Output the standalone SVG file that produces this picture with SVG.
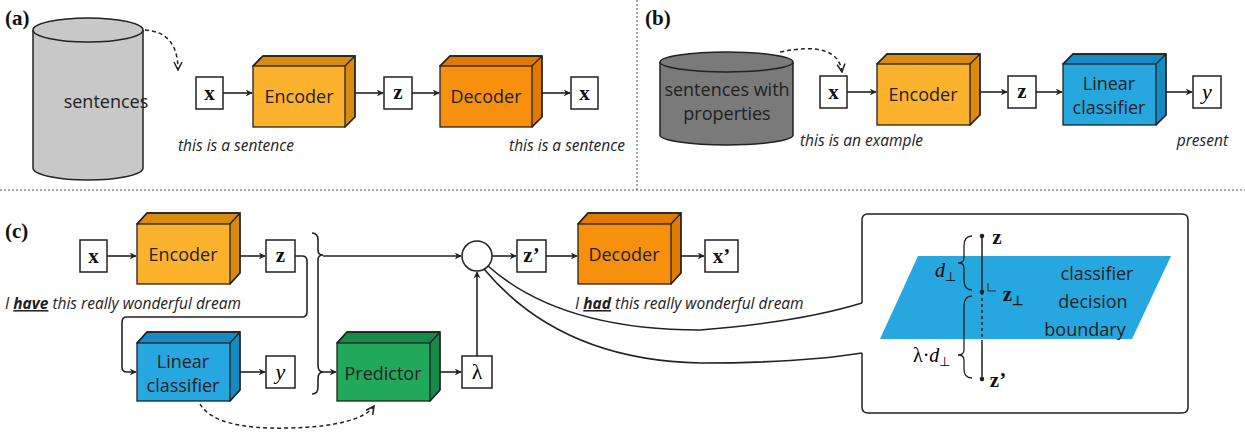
<svg xmlns="http://www.w3.org/2000/svg" width="1245" height="434" viewBox="0 0 1245 434">
<defs>
<marker id="ah" viewBox="0 0 10 10" refX="9" refY="5" markerWidth="7" markerHeight="7" orient="auto" markerUnits="userSpaceOnUse"><path d="M0,0 L10,5 L0,10 L3,5 Z" fill="#222"/></marker>
<marker id="oa" viewBox="0 0 10 10" refX="9" refY="5" markerWidth="10" markerHeight="10" orient="auto" markerUnits="userSpaceOnUse"><path d="M1,1 L9,5 L1,9" fill="none" stroke="#222" stroke-width="1.5"/></marker>
<style>
.ln{fill:none;stroke:#222;stroke-width:1.6}
.ds{fill:none;stroke:#222;stroke-width:1.5;stroke-dasharray:4,3}
.box{fill:#fff;stroke:#222;stroke-width:1.5}
.bx{font-family:"Liberation Serif",serif;font-weight:bold;font-size:21px;text-anchor:middle;fill:#111}
.lb{font-family:"Open Sans",sans-serif;font-size:18px;text-anchor:middle;fill:#222}
.it{font-family:"Open Sans",sans-serif;font-style:italic;font-size:15.5px;fill:#222}
.pl{font-family:"Liberation Serif",serif;font-weight:bold;font-size:21px;fill:#111}
.edge{stroke:#222;stroke-width:1.3}
.div{stroke:#555;stroke-width:1;stroke-dasharray:2,2;fill:none}
</style>
</defs>
<path class="div" d="M637,0 V190 M0,190 H1245"/>
<text class="pl" x="5" y="25">(a)</text>
<text class="pl" x="645" y="25">(b)</text>
<text class="pl" x="5" y="238">(c)</text>

<!-- (a) -->
<g id="a-db">
<path d="M33,30 V168 A55,12 0 0 0 143,168 V30" fill="#c8c8c8" stroke="#222" stroke-width="1.5"/>
<ellipse cx="88" cy="30" rx="55" ry="12" fill="#c8c8c8" stroke="#222" stroke-width="1.5"/>
<text class="lb" x="106" y="108">sentences</text>
</g>
<g id="a-x"><rect class="box" x="196" y="77" width="27" height="32"/><text class="bx" x="209.5" y="100">x</text></g>
<g id="a-enc"><path d="M253,66 L263,56 H355 V117 L345,127 Z" fill="#d98b10" stroke="#222" stroke-width="1.3"/><rect x="253" y="66" width="92" height="61" fill="#fdb22e" class="edge"/><path d="M253,66 L263,56 H355 V117 L345,127 M345,66 L355,56" fill="none" class="edge"/><text class="lb" x="299" y="103">Encoder</text></g>
<g id="a-z"><rect class="box" x="384" y="77" width="28" height="32"/><text class="bx" x="398" y="99">z</text></g>
<g id="a-dec"><path d="M440,66 L450,56 H542 V117 L532,127 Z" fill="#e07b00" stroke="#222" stroke-width="1.3"/><rect x="440" y="66" width="92" height="61" fill="#f7900c" class="edge"/><path d="M440,66 L450,56 H542 V117 L532,127 M532,66 L542,56" fill="none" class="edge"/><text class="lb" x="486" y="103">Decoder</text></g>
<g id="a-x2"><rect class="box" x="571" y="77" width="27" height="32"/><text class="bx" x="584.5" y="100">x</text></g>
<text class="it" x="178" y="151">this is a sentence</text>
<text class="it" x="625" y="151" text-anchor="end">this is a sentence</text>

<!-- (b) -->
<g id="b-db">
<path d="M660,62 V135 A66.5,10 0 0 0 793,135 V62" fill="#7a7a7a" stroke="#222" stroke-width="1.5"/>
<ellipse cx="726.5" cy="62" rx="66.5" ry="10" fill="#7a7a7a" stroke="#222" stroke-width="1.5"/>
<text class="lb" x="727" y="96" fill="#111" font-size="17">sentences with</text>
<text class="lb" x="727" y="120" fill="#111" font-size="17">properties</text>
</g>
<g id="b-x"><rect class="box" x="820" y="76" width="27" height="32"/><text class="bx" x="833.5" y="99">x</text></g>
<g id="b-enc"><path d="M877,64 L887,54 H980 V115 L970,125 Z" fill="#d98b10" stroke="#222" stroke-width="1.3"/><rect x="877" y="64" width="93" height="61" fill="#fdb22e" class="edge"/><path d="M877,64 L887,54 H980 V115 L970,125 M970,64 L980,54" fill="none" class="edge"/><text class="lb" x="923" y="101">Encoder</text></g>
<g id="b-z"><rect class="box" x="1008" y="76" width="28" height="32"/><text class="bx" x="1022" y="98">z</text></g>
<g id="b-lin"><path d="M1063,64 L1073,54 H1166 V115 L1156,125 Z" fill="#168ac2" stroke="#222" stroke-width="1.3"/><rect x="1063" y="64" width="93" height="61" fill="#27a7e0" class="edge"/><path d="M1063,64 L1073,54 H1166 V115 L1156,125 M1156,64 L1166,54" fill="none" class="edge"/><text class="lb" x="1109" y="90">Linear</text><text class="lb" x="1109" y="114">classifier</text></g>
<g id="b-y"><rect class="box" x="1193" y="76" width="28" height="32"/><text x="1207" y="99" font-family="Liberation Serif,serif" font-style="italic" font-size="22" text-anchor="middle">y</text></g>
<text class="it" x="800" y="146">this is an example</text>
<text class="it" x="1228" y="146" text-anchor="end">present</text>

<!-- (c) -->
<g id="c-x"><rect class="box" x="80" y="240" width="27" height="32"/><text class="bx" x="93.5" y="263">x</text></g>
<g id="c-enc"><path d="M137,224 L147,213 H240 V273 L230,284 Z" fill="#d98b10" stroke="#222" stroke-width="1.3"/><rect x="137" y="224" width="93" height="60" fill="#fdb22e" class="edge"/><path d="M137,224 L147,213 H240 V273 L230,284 M230,224 L240,213" fill="none" class="edge"/><text class="lb" x="183" y="261">Encoder</text></g>
<g id="c-z"><rect class="box" x="266" y="240" width="29" height="32"/><text class="bx" x="280.5" y="262">z</text></g>
<g id="c-circle"><circle cx="477" cy="256" r="15" fill="#fff" stroke="#222" stroke-width="1.5"/></g>
<g id="c-z2"><rect class="box" x="517" y="240" width="29" height="32"/><text class="bx" x="531.5" y="262">z’</text></g>
<g id="c-dec"><path d="M578,224 L588,213 H681 V273 L671,284 Z" fill="#e07b00" stroke="#222" stroke-width="1.3"/><rect x="578" y="224" width="93" height="60" fill="#f7900c" class="edge"/><path d="M578,224 L588,213 H681 V273 L671,284 M671,224 L681,213" fill="none" class="edge"/><text class="lb" x="624" y="261">Decoder</text></g>
<g id="c-x2"><rect class="box" x="705" y="240" width="33" height="32"/><text class="bx" x="721.5" y="263">x’</text></g>
<g id="c-lin"><path d="M137,343 L147,332 H240 V390 L230,401 Z" fill="#168ac2" stroke="#222" stroke-width="1.3"/><rect x="137" y="343" width="93" height="58" fill="#27a7e0" class="edge"/><path d="M137,343 L147,332 H240 V390 L230,401 M230,343 L240,332" fill="none" class="edge"/><text class="lb" x="183" y="368">Linear</text><text class="lb" x="183" y="392">classifier</text></g>
<g id="c-y"><rect class="box" x="266" y="356" width="29" height="32"/><text x="280.5" y="379" font-family="Liberation Serif,serif" font-style="italic" font-size="22" text-anchor="middle">y</text></g>
<g id="c-pred"><path d="M337,343 L347,332 H440 V390 L430,401 Z" fill="#168a48" stroke="#222" stroke-width="1.3"/><rect x="337" y="343" width="93" height="58" fill="#22a85a" class="edge"/><path d="M337,343 L347,332 H440 V390 L430,401 M430,343 L440,332" fill="none" class="edge"/><text class="lb" x="383" y="380">Predictor</text></g>
<g id="c-lam"><rect class="box" x="462" y="356" width="30" height="32"/><text x="477" y="379" font-family="Liberation Serif,serif" font-size="22" text-anchor="middle">λ</text></g>
<text class="it" x="5" y="309">I <tspan font-weight="bold" text-decoration="underline">have</tspan> this really wonderful dream</text>
<text class="it" x="575" y="309">I <tspan font-weight="bold" text-decoration="underline">had</tspan> this really wonderful dream</text>

<g id="c-callout">
<path d="M862,303 V220 Q862,214 868,214 H1182 Q1188,214 1188,220 V407 Q1188,413 1182,413 H868 Q862,413 862,407 V353" fill="#fff" stroke="#222" stroke-width="1.5"/>
<polygon points="918,256 1171,256 1132,339 880,339" fill="#27a7e0"/>
<text class="lb" x="1097" y="280" font-size="20">classifier</text>
<text class="lb" x="1093" y="308" font-size="20">decision</text>
<text class="lb" x="1085" y="336" font-size="20">boundary</text>
<path d="M982,236 V292 M982,340 V379" stroke="#222" stroke-width="1.5"/>
<path d="M982,292 V340" stroke="#222" stroke-width="1.5" stroke-dasharray="3,3"/>
<circle cx="982" cy="236" r="2.3" fill="#222"/><circle cx="982" cy="292" r="2.3" fill="#222"/><circle cx="982" cy="379" r="2.3" fill="#222"/>
<path d="M988,283 V291 H996" fill="none" stroke="#222" stroke-width="1"/>
<path d="M972,236 Q964,236 964,246 V258 Q964,263 958,263 Q964,263 964,268 V280 Q964,290 972,290" fill="none" stroke="#222" stroke-width="1.3"/>
<path d="M972,296 Q964,296 964,306 V350 Q964,355 958,355 Q964,355 964,360 V369 Q964,378 972,378" fill="none" stroke="#222" stroke-width="1.3"/>
<text class="bx" x="997" y="244">z</text>
<text class="bx" x="1013" y="301">z<tspan font-size="13" dy="4">⊥</tspan></text>
<text class="bx" x="998" y="387">z’</text>
<text x="935" y="277" font-family="Liberation Serif,serif" font-style="italic" font-size="20">d<tspan font-size="13" dy="4" font-style="normal">⊥</tspan></text>
<text x="913" y="362" font-family="Liberation Serif,serif" font-size="20">λ·<tspan font-style="italic">d</tspan><tspan font-size="13" dy="4">⊥</tspan></text>
</g>

<g id="connectors">
<path class="ds" d="M145,30 Q178,32 178,70" marker-end="url(#oa)"/>
<path class="ln" d="M223,93 H252" marker-end="url(#ah)"/>
<path class="ln" d="M355,93 H383" marker-end="url(#ah)"/>
<path class="ln" d="M412,93 H439" marker-end="url(#ah)"/>
<path class="ln" d="M542,93 H570" marker-end="url(#ah)"/>
<path class="ds" d="M780,52 Q838,40 842,72" marker-end="url(#oa)"/>
<path class="ln" d="M847,92 H876" marker-end="url(#ah)"/>
<path class="ln" d="M980,92 H1007" marker-end="url(#ah)"/>
<path class="ln" d="M1036,92 H1062" marker-end="url(#ah)"/>
<path class="ln" d="M1166,92 H1192" marker-end="url(#ah)"/>

<path class="ln" d="M107,256 H136" marker-end="url(#ah)"/>
<path class="ln" d="M240,256 H265" marker-end="url(#ah)"/>
<path class="ln" d="M295,256 H302 Q307,256 307,261 V312 Q307,317 302,317 H127 Q122,317 122,322 V367 Q122,372 127,372 H136" marker-end="url(#ah)"/>
<path class="ln" d="M312,233 Q318,233 318,240 V250 Q318,255 323,255 Q318,255 318,260 V365 Q318,372 323,372 Q318,372 318,379 V387 Q318,394 312,394"/>
<path class="ln" d="M323,256 H461" marker-end="url(#ah)"/>
<path class="ln" d="M323,372 H336" marker-end="url(#ah)"/>
<path class="ln" d="M240,372 H265" marker-end="url(#ah)"/>
<path class="ln" d="M440,372 H461" marker-end="url(#ah)"/>
<path class="ln" d="M477,356 V272" marker-end="url(#ah)"/>
<path class="ln" d="M492,256 H516" marker-end="url(#ah)"/>
<path class="ln" d="M546,256 H577" marker-end="url(#ah)"/>
<path class="ln" d="M681,256 H704" marker-end="url(#ah)"/>
<path class="ds" d="M200,404 Q215,430 290,428 Q360,426 374,406" marker-end="url(#oa)"/>
<path class="ln" d="M488,266 Q560,330 700,330 Q800,322 862,303"/>
<path class="ln" d="M484,269 Q560,360 700,363 Q800,363 862,353"/>
</g>
</svg>
